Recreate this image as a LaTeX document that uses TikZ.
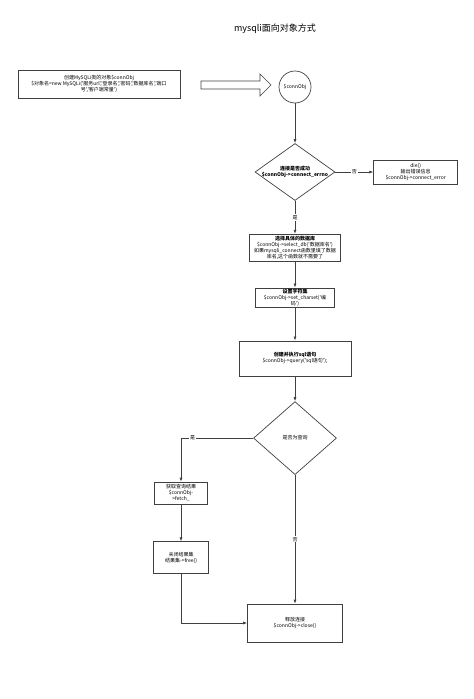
\documentclass[tikz,border=0pt]{standalone}
\usepackage{fontspec}
\setmainfont{Noto Sans CJK SC}[Ligatures=TeXOff]
\usetikzlibrary{positioning, shapes.geometric, arrows.meta}

\begin{document}
\begin{tikzpicture}[x=1pt, y=-1pt, line width=0.7pt, draw=black!75,
  every node/.style={font=\fontsize{5}{6}\selectfont},
  box/.style={draw=black!75, align=center, inner sep=1pt},
  dia/.style={draw=black!75, diamond, inner sep=0pt},
  lbl/.style={fill=white, inner sep=1pt},
  >={Latex[length=4pt, width=3pt]}]
\useasboundingbox (0,0) rectangle (474,699);
\node[font=\fontsize{9}{11}\selectfont] (title) at (275,29) {mysqli面向对象方式};
\node[box, minimum width=162pt, minimum height=28pt] (create) at (99,84)
  {创建MySQLi类的对象\$connObj\\\$对象名=new MySQLi('服务url','登录名','密码','数据库名','端口\\号','客户端常量')};
\draw (201,81) -- (260,81) -- (260,74) -- (271,85) -- (260,96) -- (260,89) -- (201,89) -- cycle;
\node[draw, circle, minimum size=32pt, inner sep=0pt] (conn) at (295,87) {\$connObj};
\node[dia, minimum width=80pt, minimum height=57pt] (d1) at (295,172) {};
\node[font=\bfseries\fontsize{5}{6}\selectfont, align=center] (d1txt) at (d1) {连接是否成功\\\$connObj->connect\_errno};
\node[box, minimum width=84pt, minimum height=24pt, right = 38pt of d1] (die) {die()\\输出错误信息\\\$connObj->connect\_error};
\node[box, minimum width=91pt, minimum height=27pt, below = 33pt of d1] (sel)
  {\textbf{选择具体的数据库}\\\$connObj->select\_db('数据库名')\\如果mysqli\_connect函数里填了数据\\库名,这个函数就不需要了};
\node[box, minimum width=79pt, minimum height=19pt, below = 26pt of sel] (charset)
  {\textbf{设置字符集}\\\$connObj->set\_charset('编\\码')};
\node[box, minimum width=112pt, minimum height=35pt, below = 33pt of charset] (query)
  {\textbf{创建并执行sql语句}\\\$connObj->query('sql语句');};
\node[dia, minimum width=83pt, minimum height=73pt, below = 25pt of query] (d2) {};
\node (d2txt) at (d2) {是否为查询};
\node[box, minimum width=53pt, minimum height=22pt] (fetch) at (181,493)
  {获取查询结果\\\$connObj-\\>fetch\_};
\node[box, minimum width=55pt, minimum height=32pt, below = 37pt of fetch] (free)
  {关闭结果集\\结果集->free()};
\node[box, minimum width=95pt, minimum height=38pt] (close) at (295,623)
  {释放连接\\\$connObj->close()};
\draw[->] (conn) -- (d1);
\draw[->] (d1) -- node[lbl] {否} (die);
\draw[->] (d1) -- node[lbl] {是} (sel);
\draw[->] (sel) -- (charset);
\draw[->] (charset) -- (query);
\draw[->] (query) -- (d2);
\draw[->] (d2.west) -| node[lbl, pos=0.42] {是} (fetch.north);
\draw[->] (fetch) -- (free);
\draw[->] (free.south) |- (close.west);
\draw[->] (d2.south) -- node[lbl] {否} (close.north);
\end{tikzpicture}
\end{document}
